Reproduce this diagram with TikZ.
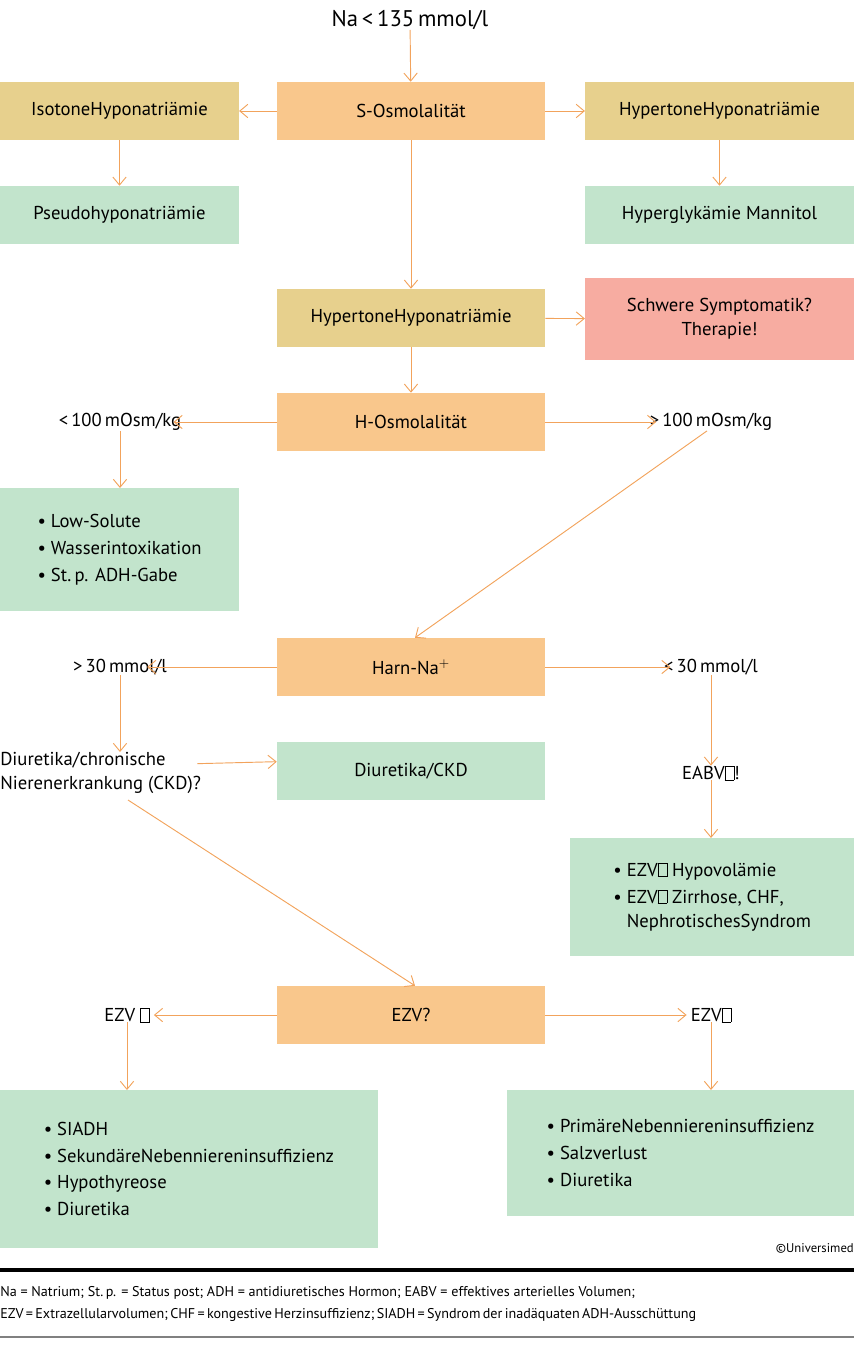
\documentclass[tikz,border=0pt]{standalone}
\usepackage{fontspec}
\setmainfont{PT Sans}
\usetikzlibrary{arrows.meta}
\definecolor{orng}{HTML}{F9C78C}
\definecolor{tan}{HTML}{E7D08D}
\definecolor{grn}{HTML}{C2E4CC}
\definecolor{rd}{HTML}{F7ACA1}
\definecolor{arr}{HTML}{F2A35C}
\newcommand{\tofu}{{\fboxsep0pt\fboxrule0.4pt\fbox{\vphantom{X}\hspace{0.45em}}}}
\begin{document}
\begin{tikzpicture}[x=0.75pt,y=-0.75pt,
  every node/.style={font=\fontsize{14}{18}\selectfont},
  box/.style={draw=none,minimum height=43.5pt,inner sep=0pt,align=center},
  ar/.style={draw=arr,line width=0.7pt,-{Straight Barb[length=6pt,width=10pt]}},
  txt/.style={inner sep=0pt}]
\useasboundingbox (0,0) rectangle (854,1345);
\node[txt,font=\fontsize{17}{20}\selectfont] (na) at (410,20) {Na{\,}<{\,}135{\,}mmol/l};
\node[box,fill=orng,minimum width=201pt] (sosm) at (411,111) {S-Osmolalität};
\node[box,fill=tan,minimum width=179pt] (iso) at (119.5,111) {IsotoneHyponatriämie};
\node[box,fill=tan,minimum width=201.5pt] (hyp) at (719.5,111) {HypertoneHyponatriämie};
\node[box,fill=grn,minimum width=179pt] (pseudo) at (119.5,215) {Pseudohyponatriämie};
\node[box,fill=grn,minimum width=201.5pt] (hgly) at (719.5,215) {Hyperglykämie Mannitol};
\node[box,fill=tan,minimum width=201pt] (hyp2) at (411,318) {HypertoneHyponatriämie};
\node[box,fill=rd,minimum width=201.5pt,minimum height=61.5pt] (schw) at (719.5,319) {Schwere Symptomatik?\\Therapie!};
\node[box,fill=orng,minimum width=201pt] (hosm) at (411,422) {H-Osmolalität};
\node[txt] (lt100) at (120,422) {<{\,}100{\,}mOsm/kg};
\node[txt] (gt100) at (711,422) {>{\,}100{\,}mOsm/kg};
\node[box,fill=grn,minimum width=179pt,minimum height=92pt,align=left,anchor=north west,inner xsep=11pt] (low) at (0,488) {\textbullet\ Low-Solute\\[2pt]\textbullet\ Wasserintoxikation\\[2pt]\textbullet\ St.\,p. ADH-Gabe};
\node[box,fill=orng,minimum width=201pt] (harn) at (411,667) {Harn-Na$^{+}$};
\node[txt] (gt30) at (120,667) {>{\,}30{\,}mmol/l};
\node[txt] (lt30) at (711,667) {<{\,}30{\,}mmol/l};
\node[txt,align=left,anchor=west] (diur) at (0,773) {Diuretika/chronische\\Nierenerkrankung (CKD)?};
\node[box,fill=grn,minimum width=201pt] (ckd) at (411,771) {Diuretika/CKD};
\node[txt] (eabv) at (711,773) {EABV\tofu!};
\node[box,fill=grn,minimum width=213pt,minimum height=88pt,align=left,anchor=north west,inner xsep=11pt] (ezvbox) at (570,838) {\textbullet\ EZV\tofu\ Hypovolämie\\[2pt]\textbullet\ EZV\tofu\ Zirrhose, CHF,\\\phantom{\textbullet\ }NephrotischesSyndrom};
\node[box,fill=orng,minimum width=201pt] (ezv) at (411,1015) {EZV?};
\node[txt] (ezvl) at (127,1015) {EZV \tofu};
\node[txt] (ezvr) at (711,1015) {EZV\tofu};
\node[box,fill=grn,minimum width=283pt,minimum height=118pt,align=left,anchor=north west,inner xsep=11pt] (siadh) at (0,1090) {\textbullet\ SIADH\\[2pt]\textbullet\ SekundäreNebenniereninsuffizienz\\[2pt]\textbullet\ Hypothyreose\\[2pt]\textbullet\ Diuretika};
\node[box,fill=grn,minimum width=260pt,minimum height=94pt,align=left,anchor=north west,inner xsep=11pt] (prim) at (507,1090) {\textbullet\ PrimäreNebenniereninsuffizienz\\[2pt]\textbullet\ Salzverlust\\[2pt]\textbullet\ Diuretika};
\node[txt,anchor=north east,font=\fontsize{9.5}{11}\selectfont] (copy) at (854,1243) {\textcopyright Universimed};
\draw[line width=3pt] (0,1270) coordinate (l1a) -- (854,1270) coordinate (l1b);
\node[txt,anchor=west,align=left,font=\fontsize{10.6}{16.5}\selectfont] (foot) at (0,1304) {Na = Natrium; St.\,p. = Status post; ADH = antidiuretisches Hormon; EABV = effektives arterielles Volumen;\\EZV\,=\,Extrazellularvolumen;\,CHF\,=\,kongestive\,Herzinsuffizienz;\,SIADH\,=\,Syndrom\,der\,inadäquaten\,ADH-Ausschüttung};
\draw[gray,line width=1.5pt] (0,1337) coordinate (l2a) -- (854,1337) coordinate (l2b);
% arrows
\draw[ar] (na) -- (sosm);
\draw[ar] (sosm) -- (iso);
\draw[ar] (sosm) -- (hyp);
\draw[ar] (iso) -- (pseudo);
\draw[ar] (hyp) -- (hgly);
\draw[ar] (sosm) -- (hyp2);
\draw[ar] (hyp2) -- (schw);
\draw[ar] (hyp2) -- (hosm);
\draw[ar] (hosm) -- ([xshift=-6pt]lt100.east);
\draw[ar] (hosm) -- ([xshift=5pt]gt100.west);
\draw[ar] (lt100) -- (lt100|-low.north);
\draw[ar] ([xshift=-3pt]gt100.south) -- ([xshift=3pt]harn.north);
\draw[ar] (harn) -- ([xshift=-15pt]gt30.east);
\draw[ar] (harn) -- ([xshift=5pt]lt30.west);
\draw[ar] (gt30) -- (gt30|-diur.north);
\draw[ar] ([xshift=-3pt,yshift=7pt]diur.east) -- ([yshift=7pt]ckd.west);
\draw[ar] (eabv|-lt30.south) ++(0,0) -- (eabv);
\draw[ar] (eabv) -- (eabv|-ezvbox.north);
\draw[ar] (128,800) coordinate (dstart) -- ([xshift=3pt]ezv.north);
\draw[ar] (ezv) -- ([xshift=3pt]ezvl.east);
\draw[ar] (ezv) -- ([xshift=-3pt]ezvr.west);
\draw[ar] (ezvl) -- (ezvl|-siadh.north);
\draw[ar] (ezvr) -- (ezvr|-prim.north);
\end{tikzpicture}
\end{document}
